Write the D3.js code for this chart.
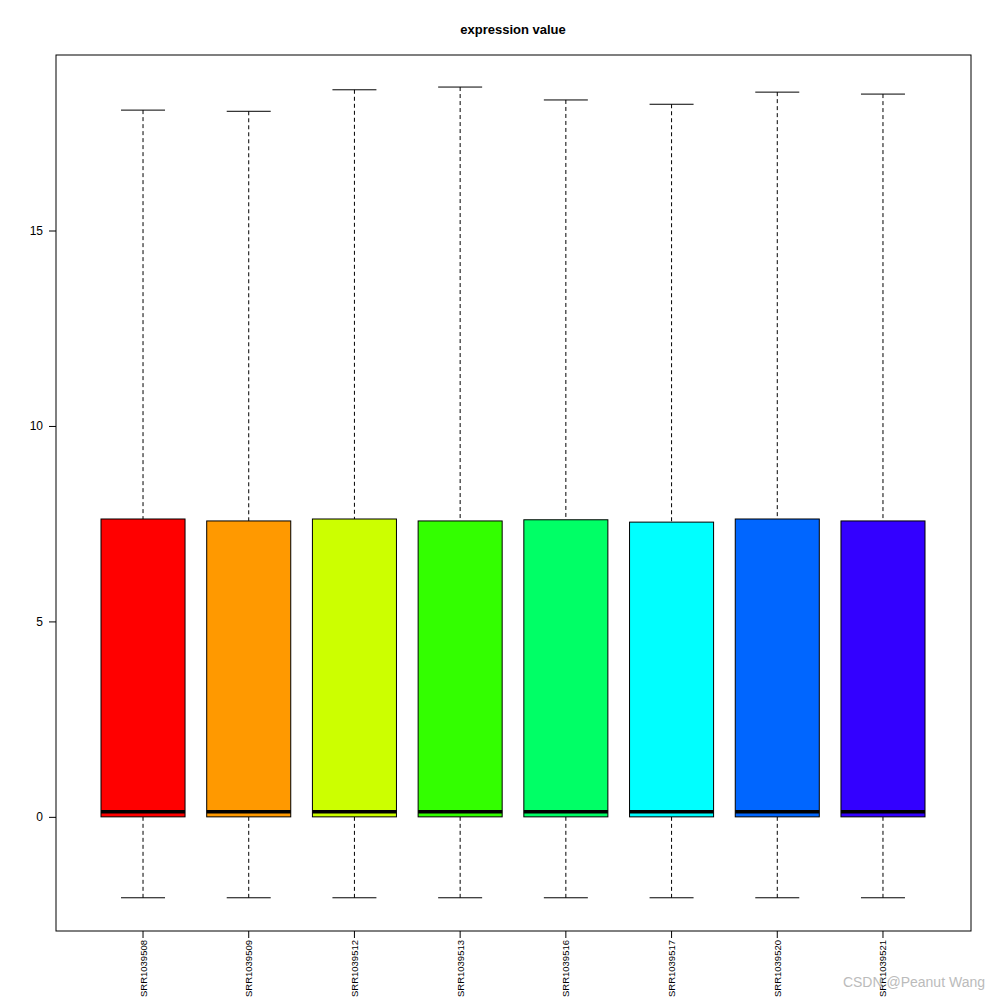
<!DOCTYPE html><html><head><script src="https://d3js.org/d3.v7.min.js"></script>
<style>body{margin:0;background:#fff}</style></head><body><svg id="c" width="1000" height="1000"></svg><script>
const samples=["SRR1039508","SRR1039509","SRR1039512","SRR1039513","SRR1039516","SRR1039517","SRR1039520","SRR1039521"];
const lowerW=[-2.07,-2.07,-2.07,-2.07,-2.07,-2.07,-2.07,-2.07];
const q1=[0,0,0,0,0,0,0,0];
const medians=[0.13,0.13,0.13,0.13,0.13,0.13,0.13,0.13];
const q3=[7.62,7.57,7.62,7.57,7.60,7.54,7.62,7.57];
const upperW=[18.08,18.05,18.6,18.67,18.34,18.23,18.54,18.49];
const colors=["#FF0000","#FF9900","#CCFF00","#33FF00","#00FF66","#00FFFF","#0066FF","#3300FF"];
const yTicks=[0,5,10,15];
const svg=d3.select("#c");
const L=56,R=971,T=55,B=931;
const y=d3.scaleLinear().domain([-2.92,19.49]).range([B,T]);
const x=d3.scaleBand().domain(samples).range([101,925]).paddingInner(0.205).paddingOuter(0);
svg.append("rect").attr("x",L).attr("y",T).attr("width",R-L).attr("height",B-T).attr("fill","none").attr("stroke","#000");
svg.append("text").attr("x",513).attr("y",34).attr("text-anchor","middle").attr("font-family","Arial, Liberation Sans").attr("font-weight","bold").attr("font-size",13).text("expression value");
const ya=svg.append("g").attr("transform",`translate(${L},0)`).call(d3.axisLeft(y).tickValues(yTicks).tickSize(7).tickPadding(6));
ya.select(".domain").remove();
ya.selectAll("text").attr("font-family","Arial, Liberation Sans").attr("font-size",12);
const bw=x.bandwidth();
samples.forEach((s,i)=>{
 const cx=x(s)+bw/2;
 const g=svg.append("g");
 g.append("line").attr("x1",cx).attr("x2",cx).attr("y1",y(upperW[i])).attr("y2",y(q3[i])).attr("stroke","#000").attr("stroke-dasharray","4,3");
 g.append("line").attr("x1",cx).attr("x2",cx).attr("y1",y(q1[i])).attr("y2",y(lowerW[i])).attr("stroke","#000").attr("stroke-dasharray","4,3");
 [upperW[i],lowerW[i]].forEach(v=>g.append("line").attr("x1",cx-22).attr("x2",cx+22).attr("y1",y(v)).attr("y2",y(v)).attr("stroke","#000"));
 g.append("rect").attr("x",x(s)).attr("y",y(q3[i])).attr("width",bw).attr("height",y(q1[i])-y(q3[i])).attr("fill",colors[i]).attr("stroke","#000");
 g.append("line").attr("x1",x(s)).attr("x2",x(s)+bw).attr("y1",y(medians[i])).attr("y2",y(medians[i])).attr("stroke","#000").attr("stroke-width",3.5);
 svg.append("line").attr("x1",cx).attr("x2",cx).attr("y1",B).attr("y2",B+7).attr("stroke","#000");
 svg.append("text").attr("transform",`translate(${cx+3.5},${B+9}) rotate(-90)`).attr("text-anchor","end").attr("font-family","Arial, Liberation Sans").attr("font-size",9.5).text(s);
});
svg.append("text").attr("x",985).attr("y",987).attr("text-anchor","end").attr("font-family","Arial, Liberation Sans").attr("font-size",14).attr("fill","#bbb").text("CSDN @Peanut Wang");
</script></body></html>
